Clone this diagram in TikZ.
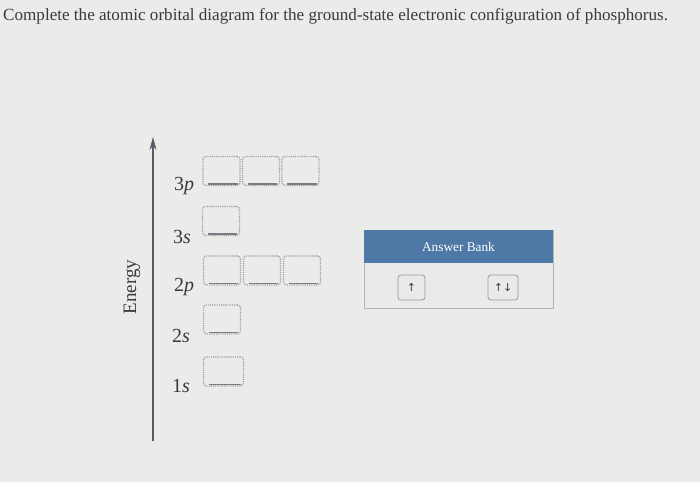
\documentclass[tikz,border=0pt]{standalone}
\usepackage{fontspec}
\setmainfont{Liberation Serif}
\newfontfamily\symfont{DejaVu Sans}
\usetikzlibrary{arrows.meta}
\definecolor{bgc}{HTML}{EBEBEA}
\definecolor{dotc}{HTML}{9C9A9E}
\definecolor{linec}{HTML}{7E7A84}
\definecolor{axisc}{HTML}{5A5A66}
\definecolor{headc}{HTML}{4E79A7}
\definecolor{panelc}{HTML}{EAEAEA}
\definecolor{panelb}{HTML}{B4B4B4}
\definecolor{btnb}{HTML}{9A9A9A}
\definecolor{txtc}{HTML}{3A3A3A}
\tikzset{
  orb/.style={draw=dotc, line width=1.2pt, dash pattern=on 1.1pt off 1.1pt, rounded corners=3pt, minimum width=37pt, minimum height=29pt, inner sep=0pt},
  orblab/.style={font=\fontsize{20}{20}\selectfont, text=txtc, inner sep=0pt},
  baseln/.style={draw=linec, line width=1.4pt},
  btn/.style={draw=btnb, fill=panelc, rounded corners=3pt, line width=0.8pt, minimum height=25pt, inner sep=0pt, text=txtc, font=\symfont\fontsize{11}{11}\selectfont}
}
\begin{document}
\begin{tikzpicture}[x=1pt,y=-1pt]
\useasboundingbox (0,0) rectangle (700,482);
\fill[bgc] (0,0) rectangle (700,482);
\node[anchor=base west, inner sep=0pt, font=\fontsize{17.1}{17}\selectfont, text=txtc] (title) at (3,20) {Complete the atomic orbital diagram for the ground-state electronic configuration of phosphorus.};
% axis
\coordinate (axbot) at (153,441);
\coordinate (axtop) at (153,137);
\draw[axisc, line width=1.1pt, -{Stealth[length=13pt,width=7pt]}] (axbot) -- (axtop);
\node[rotate=90, font=\fontsize{19}{19}\selectfont, text=txtc] (energy) at (132,287) {Energy};
% labels
\node[orblab] (l3p) at (184,186) {3\textit{p}};
\node[orblab] (l3s) at (182,237) {3\textit{s}};
\node[orblab] (l2p) at (184,287) {2\textit{p}};
\node[orblab] (l2s) at (181,336) {2\textit{s}};
\node[orblab] (l1s) at (181,386) {1\textit{s}};
% boxes
\node[orb] (p3a) at (221.5,171) {};
\node[orb] (p3b) at (261,171) {};
\node[orb] (p3c) at (300.5,171) {};
\node[orb] (s3) at (221,221) {};
\node[orb] (p2a) at (222,270.5) {};
\node[orb] (p2b) at (262,270.5) {};
\node[orb] (p2c) at (302,270.5) {};
\node[orb] (s2) at (222,319.5) {};
\node[orb, minimum width=40pt] (s1) at (223.5,371.5) {};
\foreach \b in {p3a,p3b,p3c,s3,p2a,p2b,p2c,s2,s1}{
  \draw[baseln] ([xshift=6pt,yshift=2pt]\b.south west) -- ([xshift=-3pt,yshift=2pt]\b.south east);
}
% answer bank
\node[draw=panelb, fill=panelc, line width=0.8pt, minimum width=189pt, minimum height=78pt, inner sep=0pt] (panel) at (458.5,269) {};
\fill[headc] (panel.north west) rectangle ([yshift=-33pt]panel.north east);
\node[text=white, font=\fontsize{13.3}{13}\selectfont] (abk) at (458.5,246.5) {Answer Bank};
\node[btn, minimum width=27pt] (b1) at (411.5,287.5) {↑};
\node[btn, minimum width=30pt] (b2) at (503,287.5) {↑↓};
\end{tikzpicture}
\end{document}
